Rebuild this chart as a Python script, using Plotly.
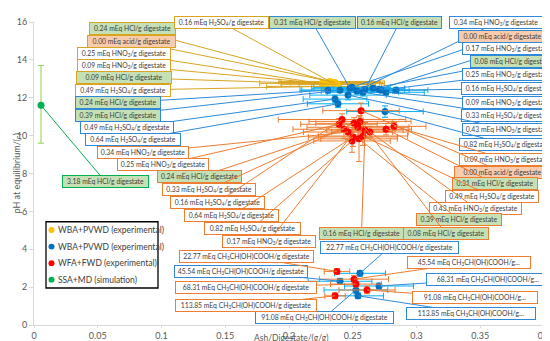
import plotly.graph_objects as go

# ---------------- axes ----------------
X_RANGE = [0, 0.4]
Y_RANGE = [0, 16]
x_tick_vals = [0, 0.05, 0.1, 0.15, 0.2, 0.25, 0.3, 0.35, 0.4]
x_tick_text = ["0", "0.05", "0.1", "0.15", "0.2", "0.25", "0.3", "0.35", "0.4"]
y_tick_vals = [0, 2, 4, 6, 8, 10, 12, 14, 16]
x_title = "Ash/Digestate/(g/g)"
y_title = "pH at equilibrium/(-)"

# ---------------- data ----------------
gold_name = "WBA+PVWD (experimental)"
gold_labels = [
    "0.24 mEq HCl/g digestate",
    "0.00 mEq acid/g digestate",
    "0.25 mEq HNO<sub>3</sub>/g digestate",
    "0.09 mEq HNO<sub>3</sub>/g digestate",
    "0.09 mEq HCl/g digestate",
    "0.49 mEq H<sub>2</sub>SO<sub>4</sub>/g digestate",
    "0.16 mEq H<sub>2</sub>SO<sub>4</sub>/g digestate",
]
gold_x = [0.232, 0.236, 0.229, 0.226, 0.238, 0.2275, 0.2337]
gold_y = [12.86, 12.81, 12.71, 12.76, 12.71, 12.60, 12.80]
gold_xerr = [0.040, 0.035, 0.035, 0.049, 0.030, 0.045, 0.040]
gold_yerr = [0.10, 0.10, 0.12, 0.10, 0.10, 0.12, 0.10]

blue_name = "WBA+PVWD (experimental)"
blue_labels = [
    "0.24 mEq HCl/g digestate",
    "0.39 mEq HCl/g digestate",
    "0.49 mEq H<sub>2</sub>SO<sub>4</sub>/g digestate",
    "0.64 mEq H<sub>2</sub>SO<sub>4</sub>/g digestate",
    "0.31 mEq HCl/g digestate",
    "0.16 mEq HCl/g digestate",
    "0.34 mEq HNO<sub>3</sub>/g digestate",
    "0.00 mEq acid/g digestate",
    "0.17 mEq HNO<sub>3</sub>/g digestate",
    "0.08 mEq HCl/g digestate",
    "0.25 mEq HNO<sub>3</sub>/g digestate",
    "0.16 mEq H<sub>2</sub>SO<sub>4</sub>/g digestate",
    "0.09 mEq HNO<sub>3</sub>/g digestate",
    "0.33 mEq H<sub>2</sub>SO<sub>4</sub>/g digestate",
    "0.43 mEq HNO<sub>3</sub>/g digestate",
    "0.82 mEq H<sub>2</sub>SO<sub>4</sub>/g digestate",
    "22.77 mEq CH<sub>3</sub>CH(OH)COOH/g digestate",
    "45.54 mEq CH<sub>3</sub>CH(OH)COOH/g digestate",
    "68.31 mEq CH<sub>3</sub>CH(OH)COOH/g...",
    "91.08 mEq CH<sub>3</sub>CH(OH)COOH/g digestate",
    "113.85 mEq CH<sub>3</sub>CH(OH)COOH/g...",
]
blue_x = [0.2306, 0.240, 0.2361, 0.2384, 0.2478, 0.2596, 0.2533, 0.2494, 0.2706,
          0.2659, 0.2722, 0.2839, 0.2761, 0.258, 0.2463, 0.2753,
          0.2557, 0.240, 0.2706, 0.2525, 0.2541]
blue_y = [12.40, 12.40, 11.93, 11.68, 12.50, 12.45, 12.35, 12.55, 12.45,
          12.50, 12.40, 12.40, 12.29, 12.29, 12.14, 11.27,
          2.73, 2.31, 2.06, 1.85, 1.54]
blue_xerr = [0.022, 0.030, 0.025, 0.024, 0.030, 0.025, 0.028, 0.030, 0.020,
             0.025, 0.022, 0.025, 0.030, 0.028, 0.030, 0.030,
             0.020, 0.025, 0.027, 0.025, 0.020]
blue_yerr = [0.15, 0.12, 0.20, 0.20, 0.12, 0.12, 0.15, 0.10, 0.12,
             0.12, 0.12, 0.15, 0.15, 0.20, 0.25, 0.30,
             0.15, 0.15, 0.15, 0.20, 0.15]

red_name = "WFA+FWD (experimental)"
red_labels = [
    "0.34 mEq HNO<sub>3</sub>/g digestate",
    "0.25 mEq HNO<sub>3</sub>/g digestate",
    "0.24 mEq HCl/g digestate",
    "0.33 mEq H<sub>2</sub>SO<sub>4</sub>/g digestate",
    "0.16 mEq H<sub>2</sub>SO<sub>4</sub>/g digestate",
    "0.64 mEq H<sub>2</sub>SO<sub>4</sub>/g digestate",
    "0.82 mEq H<sub>2</sub>SO<sub>4</sub>/g digestate",
    "0.17 mEq HNO<sub>3</sub>/g digestate",
    "0.09 mEq HNO<sub>3</sub>/g digestate",
    "0.00 mEq acid/g digestate",
    "0.31 mEq HCl/g digestate",
    "0.49 mEq H<sub>2</sub>SO<sub>4</sub>/g digestate",
    "0.43 mEq HNO<sub>3</sub>/g digestate",
    "0.39 mEq HCl/g digestate",
    "0.08 mEq HCl/g digestate",
    "0.16 mEq HCl/g digestate",
    "22.77 mEq CH<sub>3</sub>CH(OH)COOH/g digestate",
    "45.54 mEq CH<sub>3</sub>CH(OH)COOH/g...",
    "68.31 mEq CH<sub>3</sub>CH(OH)COOH/g digestate",
    "91.08 mEq CH<sub>3</sub>CH(OH)COOH/g...",
    "113.85 mEq CH<sub>3</sub>CH(OH)COOH/g digestate",
]
red_x = [0.2463, 0.2392, 0.2431, 0.251, 0.2416, 0.2502, 0.2494, 0.2541,
         0.2824, 0.2565, 0.2761, 0.258, 0.2635, 0.2549, 0.2557, 0.2596,
         0.2376, 0.251, 0.2525, 0.2612, 0.2361]
red_y = [10.19, 10.60, 10.34, 10.65, 10.85, 9.93, 9.72, 10.44,
         10.49, 11.32, 10.34, 9.98, 10.19, 9.83, 10.75, 10.29,
         2.83, 2.42, 2.16, 1.85, 1.54]
red_xerr = [0.035, 0.030, 0.040, 0.030, 0.050, 0.035, 0.030, 0.040,
            0.025, 0.030, 0.020, 0.035, 0.030, 0.030, 0.040, 0.030,
            0.010, 0.027, 0.020, 0.022, 0.008]
red_yerr = [0.40, 0.30, 0.50, 0.30, 0.30, 0.50, 0.60, 0.40,
            0.20, 0.40, 0.30, 0.50, 0.30, 1.20, 0.30, 0.40,
            0.15, 0.20, 0.15, 0.20, 0.15]

green_name = "SSA+MD (simulation)"
green_labels = ["3.18 mEq HCl/g digestate"]
green_x = [0.0055]
green_y = [11.6]
green_yerr_plus = [2.1]
green_yerr_minus = [2.0]

legend_names = [gold_name, blue_name, red_name, green_name]

# ---------------- label box layout (pixel centre x, centre y, box width) ----------------
gold_boxes = [(124.5, 15, 85), (123.5, 27.5, 87), (116, 40, 92), (116, 52.5, 92),
              (116, 65, 94), (115, 78, 94), (213.5, 8.5, 93)]
blue_boxes = [(110, 91, 84), (110, 103.5, 84), (119, 116.5, 92), (125, 129, 94),
              (304.5, 8.5, 85), (391.5, 8.5, 83), (488, 9, 92), (494.5, 22.5, 87),
              (500, 35.5, 90), (505, 48.5, 84), (500, 62, 90), (500.5, 76.5, 93),
              (500, 90.5, 90), (500.5, 104, 93), (500, 118, 90), (498.5, 133.5, 93),
              (381.5, 239, 137), (233, 264, 132), (480, 272, 122), (316.5, 311, 137),
              (463, 307, 128)]
red_boxes = [(135, 142, 90), (155, 154.5, 90), (191.5, 167, 83), (201, 180, 92),
             (209.5, 193, 93), (223.5, 207, 93), (244.5, 219.5, 95), (261, 233, 92),
             (498.5, 149, 93), (494.5, 162, 95), (487, 174, 84), (484, 187, 92),
             (467.5, 199, 91), (451, 211, 84), (438, 225, 84), (353.5, 225, 83),
             (238.5, 249, 133), (461, 255, 122), (238, 280, 140), (467, 291, 124),
             (238, 299, 140)]
green_boxes = [(97.5, 172, 85)]

# ---------------- geometry / styles ----------------
W, H = 550, 341
M_L, M_R, M_T, M_B = 26, 14, 8, 22
PLOT_W = W - M_L - M_R
PLOT_H = H - M_T - M_B


def to_x(px):
    return X_RANGE[0] + (px - M_L) / PLOT_W * (X_RANGE[1] - X_RANGE[0])


def to_y(py):
    return Y_RANGE[1] - (py - M_T) / PLOT_H * (Y_RANGE[1] - Y_RANGE[0])


def paper_x(px):
    return (px - M_L) / PLOT_W


def paper_y(py):
    return (H - M_B - py) / PLOT_H


LABEL_FONT = "Lato, sans-serif"
AXIS_FONT = "Lato, sans-serif"
TEXT_COLOR = "#404040"
FILL_GREEN = "#C5E0B4"
FILL_ORANGE = "#F8CBAD"
FILL_WHITE = "#FFFFFF"
GOLD_LINE = "#D9A520"
BLUE_LINE = "#2E8AD8"
ORANGE_LINE = "#ED7D31"
GREEN_LINE = "#00B050"
marker_colors = ["#FFC000", "#0070C0", "#FF0000", "#00B050"]


def fill_for(label):
    if "HCl" in label:
        return FILL_GREEN
    if "acid/g" in label:
        return FILL_ORANGE
    return FILL_WHITE


fig = go.Figure()

fig.add_trace(go.Scatter(
    x=gold_x, y=gold_y, mode="markers", name=gold_name,
    marker=dict(color=marker_colors[0], size=7),
    error_x=dict(type="data", array=gold_xerr, color=GOLD_LINE, thickness=1, width=3),
    error_y=dict(type="data", array=gold_yerr, color=GOLD_LINE, thickness=1, width=3),
))
fig.add_trace(go.Scatter(
    x=blue_x, y=blue_y, mode="markers", name=blue_name,
    marker=dict(color=marker_colors[1], size=7),
    error_x=dict(type="data", array=blue_xerr, color="#00B0F0", thickness=1, width=3),
    error_y=dict(type="data", array=blue_yerr, color="#00B0F0", thickness=1, width=3),
))
fig.add_trace(go.Scatter(
    x=red_x, y=red_y, mode="markers", name=red_name,
    marker=dict(color=marker_colors[2], size=7),
    error_x=dict(type="data", array=red_xerr, color=ORANGE_LINE, thickness=1, width=3),
    error_y=dict(type="data", array=red_yerr, color=ORANGE_LINE, thickness=1, width=3),
))
fig.add_trace(go.Scatter(
    x=green_x, y=green_y, mode="markers", name=green_name,
    marker=dict(color=marker_colors[3], size=7),
    error_y=dict(type="data", symmetric=False, array=green_yerr_plus,
                 arrayminus=green_yerr_minus, color="#92D050", thickness=1, width=3),
))

annotations = []


def add_labels(labels, xs, ys, boxes, color):
    for lab, xv, yv, (cx, cy, bw) in zip(labels, xs, ys, boxes):
        annotations.append(dict(
            x=xv, y=yv, xref="x", yref="y",
            ax=to_x(cx), ay=to_y(cy), axref="x", ayref="y",
            text=lab, showarrow=True, arrowhead=0, arrowwidth=1,
            arrowcolor=color, standoff=0, startstandoff=0,
            bordercolor=color, borderwidth=1, borderpad=1,
            bgcolor=fill_for(lab), width=bw - 2, height=8.5,
            align="center", valign="middle",
            font=dict(family=LABEL_FONT, size=6.8, color=TEXT_COLOR),
        ))


add_labels(gold_labels, gold_x, gold_y, gold_boxes, GOLD_LINE)
add_labels(blue_labels, blue_x, blue_y, blue_boxes, BLUE_LINE)
add_labels(red_labels, red_x, red_y, red_boxes, ORANGE_LINE)
add_labels(green_labels, green_x, green_y, green_boxes, GREEN_LINE)

# axis titles
annotations.append(dict(
    x=paper_x(283), y=paper_y(332.5), xref="paper", yref="paper",
    xanchor="center", yanchor="middle",
    text=x_title, showarrow=False, font=dict(family=AXIS_FONT, size=8.5, color="#595959"),
))
annotations.append(dict(
    x=paper_x(8), y=0.5, xref="paper", yref="paper", textangle=-90,
    xanchor="center", yanchor="middle",
    text=y_title, showarrow=False, font=dict(family=AXIS_FONT, size=9, color="#595959"),
))

# manual legend (box, markers, texts)
shapes = [dict(type="rect", xref="paper", yref="paper",
               x0=paper_x(38), x1=paper_x(150), y0=paper_y(281), y1=paper_y(213),
               line=dict(color="#000000", width=1.3), fillcolor="white", layer="above")]
legend_rows = [221.5, 238.5, 255.5, 272.5]
for name, col, ry in zip(legend_names, marker_colors, legend_rows):
    shapes.append(dict(type="circle", xref="paper", yref="paper",
                       x0=paper_x(40.5), x1=paper_x(46.5), y0=paper_y(ry + 3), y1=paper_y(ry - 3),
                       line=dict(color=col, width=0), fillcolor=col, layer="above"))
    annotations.append(dict(
        x=paper_x(48), y=paper_y(ry), xref="paper", yref="paper",
        xanchor="left", yanchor="middle", text=name, showarrow=False,
        font=dict(family=AXIS_FONT, size=8.5, color="#404040"),
    ))

fig.update_layout(
    width=W, height=H,
    margin=dict(l=M_L, r=M_R, t=M_T, b=M_B),
    paper_bgcolor="white", plot_bgcolor="white",
    annotations=annotations, shapes=shapes,
    showlegend=False,
    xaxis=dict(
        range=X_RANGE, tickvals=x_tick_vals, ticktext=x_tick_text,
        showgrid=False, zeroline=False, showline=True, linecolor="#D9D9D9",
        ticks="outside", ticklen=2, tickcolor="#D9D9D9",
        tickfont=dict(family=AXIS_FONT, size=9, color="#595959"),
    ),
    yaxis=dict(
        range=Y_RANGE, tickvals=y_tick_vals,
        showgrid=False, zeroline=False, showline=True, linecolor="#D9D9D9",
        ticks="outside", ticklen=4, tickcolor="#D9D9D9",
        tickfont=dict(family=AXIS_FONT, size=9, color="#595959"),
    ),
)

fig.write_html("out.html")
